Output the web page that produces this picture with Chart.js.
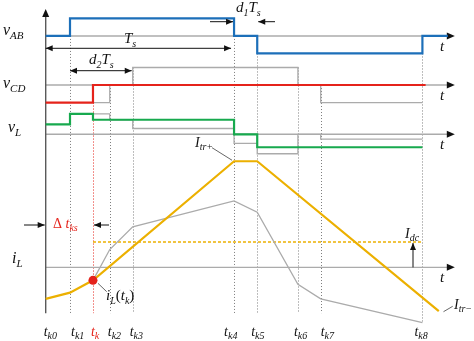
<!DOCTYPE html>
<html>
<head>
<meta charset="utf-8">
<script src="https://cdn.jsdelivr.net/npm/chart.js@4/dist/chart.umd.min.js"></script>
<style>
  html, body { margin: 0; padding: 0; background: #fff; }
  #wrap { width: 474px; height: 341px; position: relative; }
</style>
</head>
<body>
<div id="wrap"><canvas id="c"></canvas></div>
<script>
// Switching instants, in units of Ts measured from t_k0
const tickNames = ['k0', 'k1', 'k', 'k2', 'k3', 'k4', 'k5', 'k6', 'k7', 'k8'];
const tickTimes = [0, 0.129, 0.251, 0.34, 0.462, 1.0, 1.123, 1.339, 1.46, 2.0];
const axisEnd = 2.172;

// Bridge voltage v_AB (normalised, each level held until the next instant)
const vAB_t = [0, 0.129, 1.0, 1.123, 2.0, 2.135];
const vAB_v = [0, 1, 0, -1, 0, 0];

// Bridge voltage v_CD and its reference waveform
const vCD_t = [0, 0.251, 2.017];
const vCD_v = [-1, 0, 0];
const vCDref_t = [0.251, 0.34, 0.462, 1.339, 1.46, 2.0];
const vCDref_v = [-1, 0, 1, 0, -1, -1];

// Inductor voltage v_L and its reference waveform
const vL_t = [0, 0.129, 0.251, 1.0, 1.123, 2.0];
const vL_v = [0.56, 1.17, 0.83, 0, -0.74, -0.74];
const vLref_t = [0.251, 0.34, 0.462, 1.0, 1.123, 1.339, 1.46, 2.0];
const vLref_v = [1.17, 0.83, 0.33, -0.52, -1.11, 0, -0.28, -0.28];

// Inductor current i_L and its reference waveform
const iL_t = [0, 0.129, 0.251, 1.0, 1.123, 2.087];
const iL_v = [-3.23, -2.6, -1.33, 10.9, 10.9, -4.5];
const iLref_t = [0.251, 0.34, 0.462, 1.0, 1.123, 1.339, 1.46, 2.0];
const iLref_v = [-1.33, 1.83, 4.17, 6.83, 5.67, -1.73, -3.23, -5.67];
const Idc = 2.6;
const Idc_t = [0.251, 2.0];
const iLk = -1.33; // i_L(t_k)

const W = 474, H = 341;
const AXIS_X0 = 42, PX_PER_TS = 192;

const BLUE = '#1c6fb9', RED = '#e5231b', GREEN = '#17a94e', GOLD = '#ecb000';
const GREY = '#ababab', DOT = '#7d7d7d';
const SERIF = '"Liberation Serif", "Times New Roman", serif';

const pts = (ts, vs) => ts.map((t, i) => ({ x: t, y: vs[i] }));

// each waveform row gets its own hidden axis: zero level and pixels per unit
function rowAxis(zeroPx, unitPx) {
  return { type: 'linear', display: false, min: (zeroPx - H) / unitPx, max: zeroPx / unitPx };
}

function trace(ts, vs, axis, color, width, stepped) {
  return {
    data: pts(ts, vs), yAxisID: axis, borderColor: color, borderWidth: width,
    pointRadius: 0, tension: 0, stepped: stepped ? 'before' : false, fill: false,
    borderCapStyle: 'butt', borderJoinStyle: 'miter'
  };
}

function rich(ctx, x, y, parts, color, size) {
  ctx.fillStyle = color;
  ctx.textBaseline = 'alphabetic';
  ctx.textAlign = 'left';
  let cx = x;
  for (const [txt, kind] of parts) {
    if (kind === 'sub') {
      ctx.font = `italic ${Math.round(size * 0.68)}px ${SERIF}`;
      ctx.fillText(txt, cx, y + size * 0.24);
    } else if (kind === 'up') {
      ctx.font = `${size}px ${SERIF}`;
      ctx.fillText(txt, cx, y);
    } else {
      ctx.font = `italic ${size}px ${SERIF}`;
      ctx.fillText(txt, cx, y);
    }
    cx += ctx.measureText(txt).width;
  }
}

function head(ctx, x1, y1, x2, y2, len, half, color) {
  const a = Math.atan2(y2 - y1, x2 - x1);
  ctx.fillStyle = color;
  ctx.beginPath();
  ctx.moveTo(x2, y2);
  ctx.lineTo(x2 - len * Math.cos(a) + half * Math.sin(a), y2 - len * Math.sin(a) - half * Math.cos(a));
  ctx.lineTo(x2 - len * Math.cos(a) - half * Math.sin(a), y2 - len * Math.sin(a) + half * Math.cos(a));
  ctx.closePath();
  ctx.fill();
}

function arrow(ctx, x1, y1, x2, y2, both) {
  ctx.strokeStyle = '#111';
  ctx.lineWidth = 1;
  ctx.setLineDash([]);
  ctx.beginPath();
  ctx.moveTo(x1, y1);
  ctx.lineTo(x2, y2);
  ctx.stroke();
  head(ctx, x1, y1, x2, y2, 7, 3, '#111');
  if (both) head(ctx, x2, y2, x1, y1, 7, 3, '#111');
}

function seg(ctx, x1, y1, x2, y2, color, width, dash) {
  ctx.strokeStyle = color;
  ctx.lineWidth = width;
  ctx.setLineDash(dash || []);
  ctx.beginPath();
  ctx.moveTo(x1, y1);
  ctx.lineTo(x2, y2);
  ctx.stroke();
  ctx.setLineDash([]);
}

// where each dotted guide starts (row axis, level); the bottom is shared
const guideStart = [null, ['yAB', 0], ['yCD', -1], ['yCD', 0], ['yCD', 1],
                    ['yAB', 0], ['yAB', -1], ['yCD', 1], ['yCD', 0], ['yAB', -1]];
const labelShift = [-2, 1, -2, -2, -3, -10, -6, -4, 0, -8];

const frame = {
  id: 'frame',
  beforeDatasetsDraw(chart) {
    const { ctx, scales } = chart;
    const X = v => scales.x.getPixelForValue(v);
    ctx.save();
    const bottom = scales.yI.getPixelForValue(-4.7);
    // dotted guides at each switching instant
    tickTimes.forEach((t, i) => {
      if (!guideStart[i]) return;
      const [ax, lv] = guideStart[i];
      const y0 = scales[ax].getPixelForValue(lv);
      const y1 = i === 9 ? scales.yI.getPixelForValue(-5.6) : bottom;
      const x = Math.round(X(t)) + 0.5;
      seg(ctx, x, y0, x, y1, tickNames[i] === 'k' ? RED : DOT, 1, [1, 2]);
    });
    // time axes of each row
    for (const ax of ['yAB', 'yCD', 'yL', 'yI']) {
      const y = scales[ax].getPixelForValue(0);
      seg(ctx, X(0), y, X(axisEnd) - 4, y, GREY, 1.4);
      head(ctx, X(0), y, X(axisEnd), y, 8, 3.5, '#111');
    }
    // vertical axis
    seg(ctx, X(0), bottom, X(0), 14, '#5a5a5a', 1.4);
    head(ctx, X(0), 40, X(0), 9, 8, 3.5, '#111');
    // I_dc level
    const yd = scales.yI.getPixelForValue(Idc);
    seg(ctx, X(Idc_t[0]), yd, X(Idc_t[1]), yd, GOLD, 1.6, [3, 2]);
    ctx.restore();
  },
  afterDatasetsDraw(chart) {
    const { ctx, scales } = chart;
    const X = v => scales.x.getPixelForValue(v);
    const yI = v => scales.yI.getPixelForValue(v);
    ctx.save();
    // row names
    rich(ctx, 3, 35, [['v'], ['AB', 'sub']], '#111', 16);
    rich(ctx, 3, 88, [['v'], ['CD', 'sub']], '#111', 16);
    rich(ctx, 8, 132, [['v'], ['L', 'sub']], '#111', 16);
    rich(ctx, 12, 263, [['i'], ['L', 'sub']], '#111', 16);
    for (const ax of ['yAB', 'yCD', 'yL', 'yI']) {
      rich(ctx, 440, scales[ax].getPixelForValue(0) + 15, [['t']], '#111', 15);
    }
    // period and duty-cycle markers
    arrow(ctx, X(0), 48.3, X(0.984), 48.3, true);
    rich(ctx, 124, 43, [['T'], ['s', 'sub']], '#111', 15);
    arrow(ctx, X(tickTimes[1]), 70.7, X(tickTimes[4]) - 1, 70.7, true);
    rich(ctx, 89, 64, [['d'], ['2', 'sub'], ['T'], ['s', 'sub']], '#111', 15);
    arrow(ctx, 210, 21.7, X(tickTimes[5]) - 1, 21.7, false);
    arrow(ctx, 275, 21.7, X(tickTimes[6]) + 1, 21.7, false);
    rich(ctx, 236, 12, [['d'], ['1', 'sub'], ['T'], ['s', 'sub']], '#111', 15);
    // dead-time marker
    arrow(ctx, 24, 225, X(0) - 1, 225, false);
    arrow(ctx, 109, 225, X(tickTimes[2]) + 1, 225, false);
    rich(ctx, 53, 228, [['Δ ', 'up'], ['t'], ['ks', 'sub']], RED, 14);
    // current annotations
    arrow(ctx, 413, yI(0), 413, yI(Idc) + 1, false);
    rich(ctx, 405, 238, [['I'], ['dc', 'sub']], '#111', 14);
    seg(ctx, 212, 147.7, X(tickTimes[5]) - 2, yI(10.9) - 1, '#555', 0.9);
    rich(ctx, 195, 147, [['I'], ['tr+', 'sub']], '#111', 14);
    seg(ctx, 443.5, 311.7, 452.7, 306.3, '#555', 0.9);
    rich(ctx, 454, 309, [['I'], ['tr−', 'sub']], '#111', 14);
    seg(ctx, X(tickTimes[2]) + 5, yI(iLk) + 3, 106.7, 291.7, '#555', 0.9);
    rich(ctx, 106, 300, [['i'], ['L', 'sub'], ['(', 'up'], ['t'], ['k', 'sub'], [')', 'up']], '#111', 15);
    // instant labels
    tickTimes.forEach((t, i) => {
      rich(ctx, X(t) + labelShift[i], 336, [['t'], [tickNames[i], 'sub']],
           tickNames[i] === 'k' ? RED : '#111', 14);
    });
    ctx.restore();
  }
};

new Chart(document.getElementById('c'), {
  type: 'line',
  data: {
    datasets: [
      { data: [{ x: tickTimes[2], y: iLk }], yAxisID: 'yI', showLine: false,
        pointRadius: 4.5, pointBackgroundColor: RED, pointBorderColor: RED, pointBorderWidth: 0 },
      trace(vAB_t, vAB_v, 'yAB', BLUE, 2.2, true),
      trace(vCD_t, vCD_v, 'yCD', RED, 2.2, true),
      trace(vL_t, vL_v, 'yL', GREEN, 2.2, true),
      trace(iL_t, iL_v, 'yI', GOLD, 2.2, false),
      trace(vCDref_t, vCDref_v, 'yCD', GREY, 1.3, true),
      trace(vLref_t, vLref_v, 'yL', GREY, 1.3, true),
      trace(iLref_t, iLref_v, 'yI', GREY, 1.3, false)
    ]
  },
  options: {
    responsive: true,
    maintainAspectRatio: false,
    animation: false,
    events: [],
    layout: { padding: 0 },
    plugins: { legend: { display: false }, tooltip: { enabled: false } },
    scales: {
      x: { type: 'linear', display: false, min: -AXIS_X0 / PX_PER_TS, max: (W - AXIS_X0) / PX_PER_TS },
      yAB: rowAxis(32.3, 18),
      yCD: rowAxis(82.7, 18),
      yL: rowAxis(133.3, 18),
      yI: rowAxis(270, 10)
    }
  },
  plugins: [frame]
});
</script>
</body>
</html>
